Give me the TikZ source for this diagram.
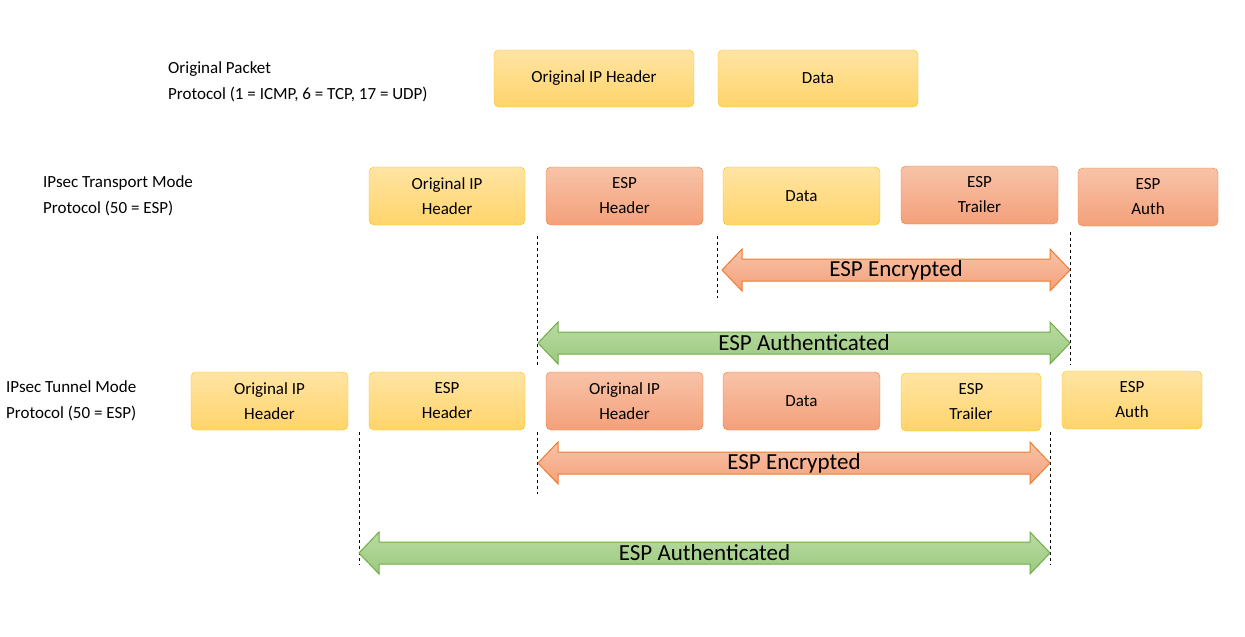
\documentclass[tikz,border=0pt]{standalone}
\usepackage{fontspec}
\setmainfont{Carlito}
\begin{document}
\begin{tikzpicture}[x=1pt,y=-1pt,
  base/.style={rounded corners=5pt,align=center,inner sep=0pt,font=\fontsize{17}{25}\selectfont},
  ybox/.style={base,draw=yellowB,top color=yellowT,bottom color=yellowBt},
  rbox/.style={base,draw=redB,top color=redT,bottom color=redBt},
  lbl/.style={anchor=west,align=left,font=\fontsize{17}{26}\selectfont,inner sep=0pt},
  big/.style={font=\fontsize{23}{25}\selectfont,inner sep=0pt},
  dl/.style={dashed,black,line width=0.7pt}]
\definecolor{yellowB}{HTML}{FFC000}\definecolor{yellowT}{HTML}{FFE4A3}\definecolor{yellowBt}{HTML}{FFD46A}
\definecolor{redB}{HTML}{ED7D31}\definecolor{redT}{HTML}{F8C3A8}\definecolor{redBt}{HTML}{F4A07A}
\definecolor{greenB}{HTML}{70AD47}\definecolor{greenT}{HTML}{B9DBA3}\definecolor{greenBt}{HTML}{9BC97E}
\useasboundingbox (0,0) rectangle (1245,637);
\newcommand{\boxat}[7]{\node[#1,minimum width=#4pt,minimum height=#5pt] (#7) at (#2,#3) {#6};}
% row 1
\node[lbl] (l1) at (168,82) {Original Packet\\Protocol (1 = ICMP, 6 = TCP, 17 = UDP)};
\boxat{ybox}{594}{78.5}{200}{57}{Original IP Header}{a1}
\boxat{ybox}{818}{78.5}{200}{57}{Data}{a2}
% row 2
\node[lbl] (l2) at (43,196) {IPsec Transport Mode\\Protocol (50 = ESP)};
\boxat{ybox}{447}{196}{156}{58}{Original IP\\Header}{b1}
\boxat{rbox}{624.5}{196}{157}{58}{ESP\\Header}{b2}
\boxat{ybox}{801.5}{196}{157}{58}{Data}{b3}
\boxat{rbox}{979.5}{195}{157}{58}{ESP\\Trailer}{b4}
\boxat{rbox}{1148}{197}{140}{58}{ESP\\Auth}{b5}
% row 3
\node[lbl] (l3) at (6,401) {IPsec Tunnel Mode\\Protocol (50 = ESP)};
\boxat{ybox}{269.5}{401}{157}{58}{Original IP\\Header}{c1}
\boxat{ybox}{447}{401}{156}{58}{ESP\\Header}{c2}
\boxat{rbox}{624.5}{401}{157}{58}{Original IP\\Header}{c3}
\boxat{rbox}{801.5}{401}{157}{58}{Data}{c4}
\boxat{ybox}{971}{402}{140}{58}{ESP\\Trailer}{c5}
\boxat{ybox}{1132}{400}{140}{58}{ESP\\Auth}{c6}
% dashed lines
\coordinate (d1a) at (537,236); \coordinate (d1b) at (537,365);
\coordinate (d2a) at (717,236); \coordinate (d2b) at (717,298);
\coordinate (d3a) at (1070,232); \coordinate (d3b) at (1070,365);
\coordinate (d4a) at (537,432); \coordinate (d4b) at (537,494);
\coordinate (d5a) at (359,432); \coordinate (d5b) at (359,565);
\coordinate (d6a) at (1050,432); \coordinate (d6b) at (1050,565);
\foreach \p in {1,...,6} \draw[dl] (d\p a) -- (d\p b);
% double arrows
\newcommand{\dblarrow}[6]{%
 \draw[#4,line width=1pt] (#1,#3) -- (#1+20,#3-21) -- (#1+20,#3-11) -- (#2-20,#3-11) -- (#2-20,#3-21) -- (#2,#3) -- (#2-20,#3+21) -- (#2-20,#3+11) -- (#1+20,#3+11) -- (#1+20,#3+21) -- cycle;
 \node[big] (#6) at ({(#1+#2)/2},#3) {#5};}
\dblarrow{722}{1070}{270}{draw=redB,top color=redT,bottom color=redBt}{ESP Encrypted}{e1}
\dblarrow{538}{1070}{343}{draw=greenB,top color=greenT,bottom color=greenBt}{ESP Authenticated}{e2}
\dblarrow{538}{1050}{463}{draw=redB,top color=redT,bottom color=redBt}{ESP Encrypted}{e3}
\dblarrow{359}{1050}{553}{draw=greenB,top color=greenT,bottom color=greenBt}{ESP Authenticated}{e4}
\end{tikzpicture}
\end{document}
